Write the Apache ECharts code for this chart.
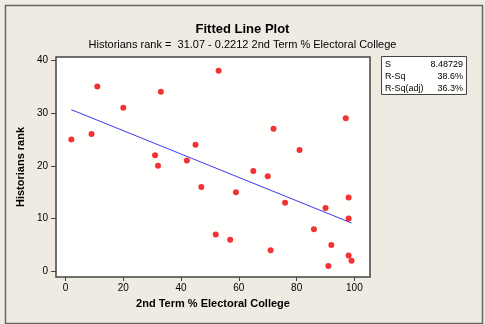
<!DOCTYPE html>
<html>
<head>
<meta charset="utf-8">
<script src="https://cdn.jsdelivr.net/npm/echarts@6/dist/echarts.min.js"></script>
<style>
  html, body { margin: 0; padding: 0; background: #f0ebe2; }
  #chart { width: 485px; height: 324px; }
</style>
</head>
<body>
<div id="chart"></div>
<script>
// 2nd term % of Electoral College vs. historians' rank
const electoralPct = [2, 9, 11, 20, 33, 53, 31, 32, 42, 45, 47, 97, 72, 81, 65, 70, 59, 76, 90, 98, 98, 52, 57, 86, 71, 92, 98, 99, 91];
const historiansRank = [25, 26, 35, 31, 34, 38, 22, 20, 21, 24, 16, 29, 27, 23, 19, 18, 15, 13, 12, 14, 10, 7, 6, 8, 4, 5, 3, 2, 1];

// Fitted regression: rank = intercept + slope * pct
const intercept = 31.07;
const slope = -0.2212;

const xTicks = [0, 20, 40, 60, 80, 100];
const yTicks = [0, 10, 20, 30, 40];

const statLabels = ['S', 'R-Sq', 'R-Sq(adj)'];
const statValues = ['8.48729', '38.6%', '36.3%'];

const points = electoralPct.map((x, i) => [x, historiansRank[i]]);
const xMin = Math.min(...electoralPct), xMax = Math.max(...electoralPct);
const fitLine = [[xMin, intercept + slope * xMin], [xMax, intercept + slope * xMax]];

const font = 'Liberation Sans';
const chart = echarts.init(document.getElementById('chart'));

const statTexts = [];
statLabels.forEach((lab, i) => {
  statTexts.push({ type: 'text', left: 385, top: 60 + i * 12,
    style: { text: lab, font: '9px "Liberation Sans"', fill: '#000' } });
  statTexts.push({ type: 'text', right: 22, top: 60 + i * 12,
    style: { text: statValues[i], font: '9px "Liberation Sans"', fill: '#000', textAlign: 'right' } });
});

chart.setOption({
  backgroundColor: '#f0ebe2',
  animation: false,
  title: {
    text: 'Fitted Line Plot',
    subtext: 'Historians rank =  ' + intercept.toFixed(2) + ' - ' + Math.abs(slope).toFixed(4) + ' 2nd Term % Electoral College',
    left: 'center', top: 18, itemGap: 3,
    textStyle: { fontFamily: font, fontSize: 13, fontWeight: 'bold', color: '#000' },
    subtextStyle: { fontFamily: font, fontSize: 11, color: '#000' }
  },
  grid: { left: 56, right: 115, top: 57, bottom: 47, show: true,
    backgroundColor: '#fffffd', borderColor: '#444', borderWidth: 1.5 },
  xAxis: {
    type: 'value', min: -3.3, max: 105.4,
    name: '2nd Term % Electoral College', nameLocation: 'middle', nameGap: 21,
    nameTextStyle: { fontFamily: font, fontSize: 11, fontWeight: 'bold', color: '#000' },
    axisLine: { show: false, onZero: false },
    splitLine: { show: false },
    axisTick: { show: true, length: 4, lineStyle: { color: '#444' }, customValues: xTicks },
    axisLabel: { fontFamily: font, fontSize: 10, color: '#000', margin: 6, customValues: xTicks }
  },
  yAxis: {
    type: 'value', min: -1.06, max: 40.6,
    name: 'Historians rank', nameLocation: 'middle', nameGap: 26,
    nameTextStyle: { fontFamily: font, fontSize: 11, fontWeight: 'bold', color: '#000' },
    axisLine: { show: false, onZero: false },
    splitLine: { show: false },
    axisTick: { show: true, length: 5, lineStyle: { color: '#444' }, customValues: yTicks },
    axisLabel: { fontFamily: font, fontSize: 10, color: '#000', margin: 8, customValues: yTicks }
  },
  series: [
    { type: 'scatter', data: points, symbolSize: 6, itemStyle: { color: '#f00000' }, z: 3 },
    { type: 'line', data: fitLine, showSymbol: false, lineStyle: { color: '#3a3af0', width: 1 }, z: 2 }
  ],
  graphic: [
    { type: 'rect', left: 3, top: 3, shape: { width: 477, height: 318 },
      style: { fill: 'none', stroke: '#666', lineWidth: 1.5 }, z: -1 },
    { type: 'rect', left: 381, top: 56, shape: { width: 85, height: 38 },
      style: { fill: '#fffffd', stroke: '#444', lineWidth: 1 } },
    ...statTexts
  ]
});
</script>
</body>
</html>
